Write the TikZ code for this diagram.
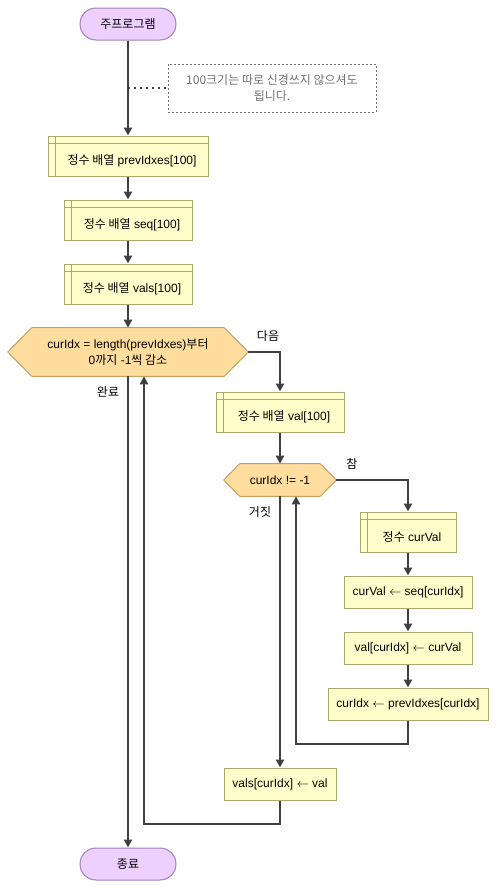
\documentclass[tikz,border=0pt]{standalone}
\usepackage{fontspec}
\setmainfont{Liberation Sans}
\newfontfamily\korfont{Noto Sans CJK KR}
\newcommand\ko[1]{{\korfont #1}}
\usetikzlibrary{arrows.meta,backgrounds}
\definecolor{termfill}{HTML}{EED0FF}
\definecolor{termline}{HTML}{A080B8}
\definecolor{boxfill}{HTML}{FFFFCC}
\definecolor{boxline}{HTML}{A8A870}
\definecolor{hexfill}{HTML}{FFDD9E}
\definecolor{hexline}{HTML}{C8A060}
\definecolor{conn}{HTML}{404040}
\definecolor{cmt}{HTML}{707070}
\tikzset{
  every node/.style={font=\fontsize{9pt}{11pt}\selectfont, inner sep=0pt},
  term/.style={draw=termline, fill=termfill, line width=0.75pt, rounded corners=12pt, minimum width=72pt, minimum height=24pt},
  proc/.style={draw=boxline, fill=boxfill, line width=0.75pt, minimum height=24pt},
  decl/.style={draw=boxline, fill=boxfill, line width=0.75pt, minimum height=30pt},
  flow/.style={draw=conn, line width=1.5pt, -{Triangle[length=6pt,width=6pt]}},
  lbl/.style={text=black},
  note/.style={draw=cmt, line width=0.75pt, dash pattern=on 1.5pt off 1.5pt, minimum width=156pt, minimum height=36pt, text=cmt, align=center},
}
\newcommand\declbars[1]{%
  \draw[boxline, line width=0.75pt] ([xshift=6pt]#1.north west) -- ([xshift=6pt]#1.south west);
  \draw[boxline, line width=0.75pt] ([yshift=-6pt]#1.north west) -- ([yshift=-6pt]#1.north east);}
\newcommand\hexpath[2]{%
  \filldraw[draw=hexline, fill=hexfill, line width=0.75pt] (#1.west) -- ([xshift=#2]#1.north west) -- ([xshift=-#2]#1.north east) -- (#1.east) -- ([xshift=-#2]#1.south east) -- ([xshift=#2]#1.south west) -- cycle;}
\newcommand\la{\,$\leftarrow$\,}
\begin{document}
\begin{tikzpicture}[x=0.75pt,y=-0.75pt]
\useasboundingbox (0,0) rectangle (497,889);
% nodes
\node[term] (start) at (128,24) {\ko{주프로그램}};
\node[note] (note) at (272,88) {\ko{100크기는 따로 신경쓰지 않으셔도}\\[1pt]\ko{됩니다.}};
\coordinate (nfoot) at (128,88);
\node[decl, minimum width=120pt] (prev) at (128,156) {};
\node[lbl] (prevt) at (132,161) {\ko{정수 배열} prevIdxes[100]};
\node[decl, minimum width=96pt] (seq) at (128,220) {};
\node[lbl] (seqt) at (132,225) {\ko{정수 배열} seq[100]};
\node[decl, minimum width=96pt] (vals) at (128,284) {};
\node[lbl] (valst) at (132,289) {\ko{정수 배열} vals[100]};
\node[minimum width=180pt, minimum height=36pt, align=center] (loop) at (128,352) {curIdx = length(prevIdxes)\ko{부터}\\[1pt]0\ko{까지} -1\ko{씩 감소}};
\node[decl, minimum width=96pt] (val) at (280,412) {};
\node[lbl] (valt) at (284,417) {\ko{정수 배열} val[100]};
\node[minimum width=84pt, minimum height=24pt] (dec) at (280,480) {curIdx != -1};
\node[decl, minimum width=72pt] (cv) at (408,532) {};
\node[lbl] (cvt) at (412,537) {\ko{정수} curVal};
\node[proc, minimum width=96pt] (a1) at (408,592) {curVal $\leftarrow$ seq[curIdx]};
\node[proc, minimum width=96pt] (a2) at (408,648) {val[curIdx] $\leftarrow$ curVal};
\node[proc, minimum width=120pt] (a3) at (408,704) {curIdx $\leftarrow$ prevIdxes[curIdx]};
\node[proc, minimum width=84pt] (a4) at (280,784) {vals[curIdx] $\leftarrow$ val};
\node[term] (end) at (128,864) {\ko{종료}};
\begin{pgfonlayer}{background}
\hexpath{loop}{18pt}
\hexpath{dec}{12pt}
\end{pgfonlayer}
\declbars{prev}\declbars{seq}\declbars{vals}\declbars{val}\declbars{cv}
% labels
\node[lbl] (lnext) at (268,336) {\ko{다음}};
\node[lbl] (ldone) at (108,392) {\ko{완료}};
\node[lbl] (ltrue) at (352,464) {\ko{참}};
\node[lbl] (lfalse) at (260,512) {\ko{거짓}};
% connectors
\draw[flow] (start.south) -- (prev.north);
\draw[conn, line width=1.5pt, dash pattern=on 1.5pt off 3pt] (nfoot) -- (note.west);
\draw[flow] (prev.south) -- (seq.north);
\draw[flow] (seq.south) -- (vals.north);
\draw[flow] (vals.south) -- (loop.north);
\draw[flow] (loop.east) -| (val.north);
\draw[flow] (val.south) -- (dec.north);
\draw[flow] (dec.east) -| (cv.north);
\draw[flow] (cv.south) -- (a1.north);
\draw[flow] (a1.south) -- (a2.north);
\draw[flow] (a2.south) -- (a3.north);
\coordinate (back1) at (296,744);
\draw[flow] (a3.south) |- (back1) -- (back1 |- dec.south);
\draw[flow] (dec.south) -- (a4.north);
\coordinate (back2) at (144,824);
\draw[flow] (a4.south) |- (back2) -- (back2 |- loop.south);
\draw[flow] (loop.south) -- (end.north);
\end{tikzpicture}
\end{document}
